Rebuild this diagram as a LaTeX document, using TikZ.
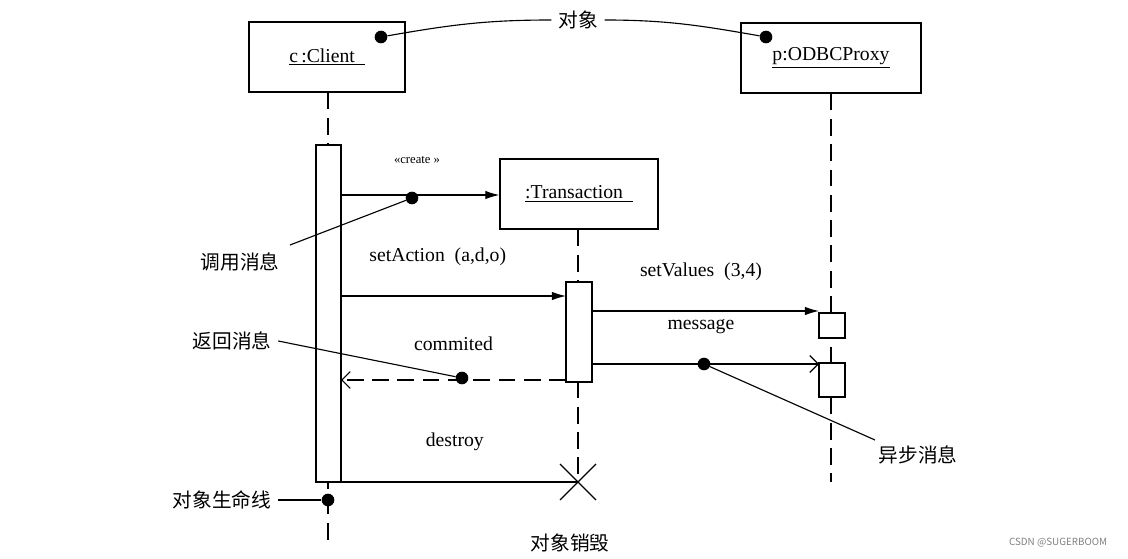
\documentclass[tikz,border=0pt]{standalone}
\usepackage{fontspec}
\setmainfont{Liberation Serif}
\newfontfamily\cjk{Noto Sans CJK SC}
\usetikzlibrary{arrows.meta,calc}
\begin{document}
\fontsize{14}{16}\selectfont
\begin{tikzpicture}[x=0.025cm,y=-0.025cm,
  obj/.style={draw,thick,minimum width=#1,minimum height=1.75cm,inner sep=0pt},
  bar/.style={draw,thick,fill=white},
  life/.style={thick,dash pattern=on 12pt off 6pt},
  msg/.style={thick,-{Latex[length=10pt,width=6pt]}},
  asy/.style={thick,-{Straight Barb[length=6pt,width=12pt]}},
  note/.style={font=\cjk},
  pt/.style={circle,fill,inner sep=0pt,minimum size=9pt}]

\useasboundingbox (0,0) rectangle (1128,558);

%OBJECTS
\node[obj=3.9cm] (client) at (327,57) {\underline{c\,:Client\ \ }};
\node[obj=4.5cm] (proxy) at (831,58) {\underline{p:ODBCProxy}};
\node[obj=3.95cm] (trans) at (579,194) {\underline{:Transaction\ \ }};

%LIFELINES
\coordinate (cEnd) at (328,540);
\coordinate (pEnd) at (831,482);
\coordinate (tX) at (578,482);
\draw[life] (client.south -| 328,0) -- (cEnd);
\draw[life] (proxy.south) -- (pEnd);
\draw[life] (trans.south -| 578,0) -- (tX);

%ACTIVATIONS
\draw[bar] (316,145) rectangle (341,482);
\draw[bar] (566,282) rectangle (592,382);
\draw[bar] (819,313) rectangle (845,338);
\draw[bar] (819,363) rectangle (845,397);

%MESSAGES
\coordinate (a1) at (341,195); \coordinate (a2) at (341,296);
\coordinate (a3) at (592,311); \coordinate (a4) at (819,311);
\coordinate (a5) at (592,364); \coordinate (a6) at (819,364);
\coordinate (a7) at (566,380); \coordinate (a8) at (341,380);
\coordinate (a9) at (341,482); \coordinate (a10) at (566,296);
\draw[msg] (a1) -- (trans.west |- a1) node[pos=0.48,above=0.6cm,font=\small] {\textless\textless create\ \textgreater\textgreater};
\draw[msg] (a2) -- (a10) node[pos=0.43,above=0.58cm] {setAction\ \ (a,d,o)};
\draw[msg] (a3) -- (a4) node[pos=0.48,above=0.58cm] {setValues\ \ (3,4)};
\draw[asy] (a5) -- (a6) node[pos=0.48,above=0.58cm] {message};
\draw[asy,dash pattern=on 12pt off 6pt] (a7) -- (a8) node[pos=0.5,above=0.55cm] {commited};
\draw[thick] (a9) -- (tX) node[pos=0.48,above=0.6cm] {destroy};
\draw[thick] ($(tX)+(-18,-18)$) -- ($(tX)+(18,18)$) ($(tX)+(-18,18)$) -- ($(tX)+(18,-18)$);

%NOTES
\node[note] (nObj) at (578,20) {对象};
\node[pt] (d1) at (381,37) {};
\node[pt] (d2) at (766,37) {};
\draw[thick] (nObj.west) to[out=180,in=10] (d1);
\draw[thick] (nObj.east) to[out=0,in=170] (d2);
\node[note] (nCall) at (240,262) {调用消息};
\node[pt] (d3) at (412,198) {};
\draw[thick] (290,245) -- (d3);
\node[note] (nRet) at (232,341) {返回消息};
\node[pt] (d4) at (462,378) {};
\draw[thick] (nRet.east) -- (d4);
\node[note] (nAsy) at (918,455) {异步消息};
\node[pt] (d5) at (704,364) {};
\draw[thick] (875,440) -- (d5);
\node[note] (nLife) at (222,500) {对象生命线};
\node[pt] (d6) at (328,500) {};
\draw[thick] (nLife.east) -- (d6);
\node[note] (nDes) at (570,543) {对象销毁};
\node[font=\cjk\scriptsize,text=gray,anchor=east] at (1114,543) {CSDN @SUGERBOOM};
\end{tikzpicture}
\end{document}
